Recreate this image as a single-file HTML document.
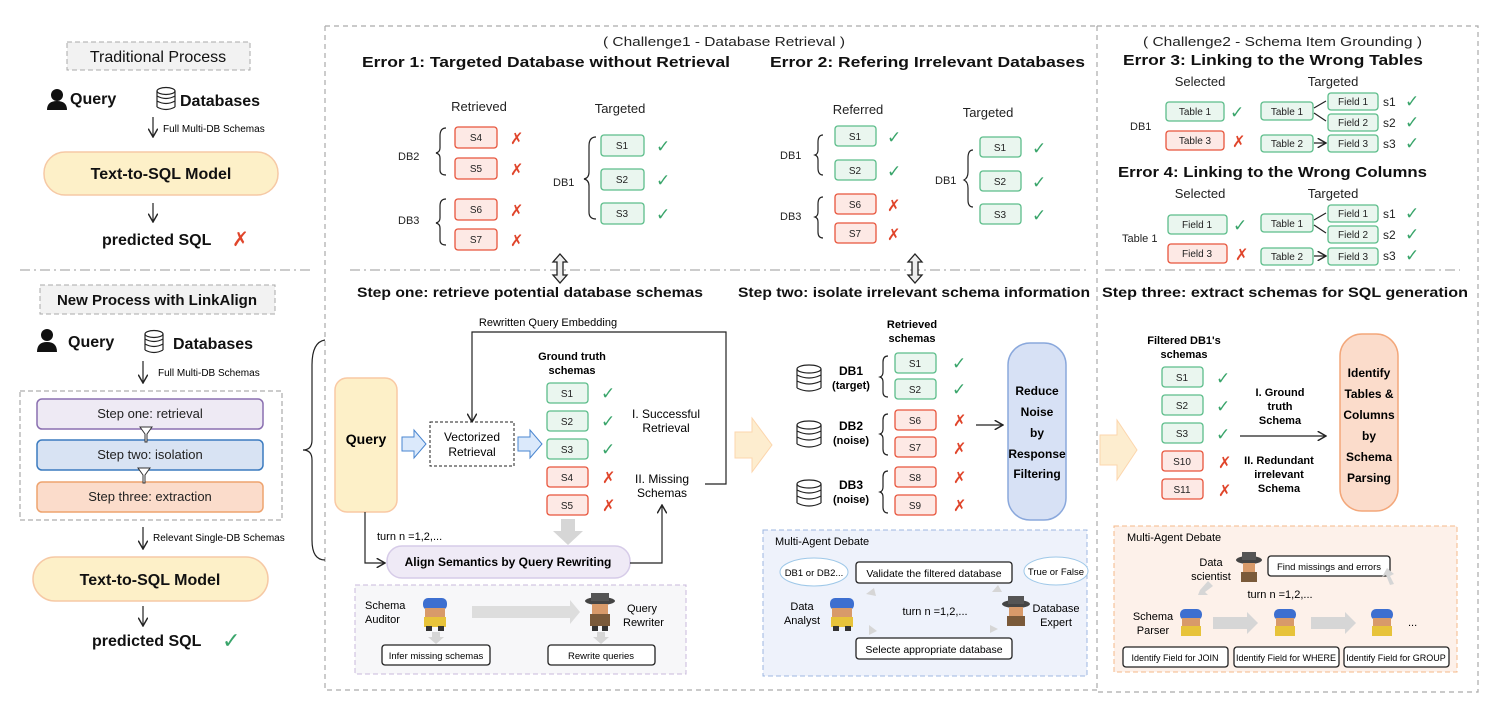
<!DOCTYPE html>
<html><head><meta charset="utf-8"><style>
html,body{margin:0;padding:0;background:#fff;}
svg{display:block;font-family:"Liberation Sans",sans-serif;}
.g{fill:#eaf6ef;stroke:#5cbd8a;stroke-width:1.3}
.r{fill:#fde9e5;stroke:#e8553c;stroke-width:1.3}
.bx{fill:#fff;stroke:#222;stroke-width:1.3}
.t{font-size:10px;fill:#222;text-anchor:middle}
.ck{font-size:17px;fill:#3aa56b;font-family:"DejaVu Sans",sans-serif;font-weight:bold}
.xx{font-size:16px;fill:#e0452b;font-family:"DejaVu Sans",sans-serif;font-weight:bold}
.h{font-size:15px;font-weight:bold;fill:#111}
.l{font-size:13px;fill:#222}
.m{font-size:12px;fill:#222}
.b{font-weight:bold}
.ln{stroke:#222;stroke-width:1.2;fill:none}
.dash{stroke:#aaa;stroke-width:1.2;fill:none;stroke-dasharray:5 4}
.dd{stroke:#bbb;stroke-width:1.5;fill:none;stroke-dasharray:10 4 2 4}
.ga{fill:#d6d6d6}
</style></head><body>
<svg width="1500" height="706" viewBox="0 0 1500 706" xmlns="http://www.w3.org/2000/svg">
<defs>
<marker id="ar" markerWidth="8" markerHeight="8" refX="7" refY="4" orient="auto"><path d="M0,0 L7,4 L0,8" fill="none" stroke="#222" stroke-width="1.2"/></marker>
</defs>

<!-- frames -->
<path class="dash" d="M325,26 H1097 M325,26 V690 H1097 M1097,26 V692 M1097,26 H1478 V692 H1097"/>
<path class="dd" d="M20,270 H312 M350,270 H1088 M1105,270 H1460"/>

<!-- LEFT TOP -->
<rect x="67" y="42" width="183" height="28" fill="#f2f2f2" stroke="#aaa" stroke-dasharray="5 3"/>
<text x="158" y="62" text-anchor="middle" style="font-size:16px;fill:#111">Traditional Process</text>
<circle cx="57" cy="95" r="6" fill="#111"/><path d="M47,110 Q47,101 57,101 Q67,101 67,110 Z" fill="#111"/>
<text x="70" y="104" class="h" style="font-size:16px">Query</text>
<g class="ln"><ellipse cx="166" cy="91" rx="9" ry="3.5"/><path d="M157,91 V107 M175,91 V107 M157,96 Q166,101 175,96 M157,101 Q166,106 175,101 M157,107 Q166,112 175,107"/></g>
<text x="180" y="106" class="h" style="font-size:16px">Databases</text>
<line x1="153" y1="117" x2="153" y2="137" class="ln" marker-end="url(#ar)"/>
<text x="163" y="132" style="font-size:10px">Full Multi-DB Schemas</text>
<rect x="44" y="152" width="234" height="43" rx="21" fill="#fdf0c8" stroke="#f6c9a5" stroke-width="1.5"/>
<text x="161" y="179" class="h" text-anchor="middle" style="font-size:16px">Text-to-SQL Model</text>
<line x1="153" y1="203" x2="153" y2="222" class="ln" marker-end="url(#ar)"/>
<text x="102" y="245" class="h" style="font-size:16px">predicted SQL</text>
<text x="232" y="246" class="xx" style="font-size:20px">✗</text>

<!-- LEFT BOTTOM -->
<rect x="40" y="285" width="235" height="29" fill="#f2f2f2" stroke="#aaa" stroke-dasharray="5 3"/>
<text x="157" y="305" class="h" text-anchor="middle">New Process with LinkAlign</text>
<circle cx="47" cy="335" r="6" fill="#111"/><path d="M37,352 Q37,342 47,342 Q57,342 57,352 Z" fill="#111"/>
<text x="68" y="347" class="h" style="font-size:16px">Query</text>
<g class="ln"><ellipse cx="154" cy="334" rx="9" ry="3.5"/><path d="M145,334 V350 M163,334 V350 M145,339 Q154,344 163,339 M145,344 Q154,349 163,344 M145,350 Q154,355 163,350"/></g>
<text x="173" y="349" class="h" style="font-size:16px">Databases</text>
<line x1="143" y1="361" x2="143" y2="383" class="ln" marker-end="url(#ar)"/>
<text x="158" y="376" style="font-size:10px">Full Multi-DB Schemas</text>
<rect x="20" y="391" width="262" height="129" fill="none" stroke="#999" stroke-dasharray="5 3"/>
<rect x="37" y="399" width="226" height="30" rx="5" fill="#eeeaf4" stroke="#8a6fb0" stroke-width="1.5"/>
<text x="150" y="418" text-anchor="middle" class="m" style="font-size:13px">Step one: retrieval</text>
<rect x="37" y="440" width="226" height="30" rx="5" fill="#d8e3f3" stroke="#3b7bbf" stroke-width="1.5"/>
<text x="150" y="459" text-anchor="middle" class="m" style="font-size:13px">Step two: isolation</text>
<rect x="37" y="482" width="226" height="30" rx="5" fill="#fbdccb" stroke="#eea36e" stroke-width="1.5"/>
<text x="150" y="501" text-anchor="middle" class="m" style="font-size:13px">Step three: extraction</text>
<path d="M140,427 H152 L147,434 V442 H145 V434 Z" fill="#fff" stroke="#333"/>
<path d="M138,468 H150 L145,475 V483 H143 V475 Z" fill="#fff" stroke="#333"/>
<line x1="143" y1="527" x2="143" y2="549" class="ln" marker-end="url(#ar)"/>
<text x="153" y="541" style="font-size:10px">Relevant Single-DB Schemas</text>
<rect x="33" y="557" width="235" height="44" rx="22" fill="#fdf0c8" stroke="#f6c9a5" stroke-width="1.5"/>
<text x="150" y="585" class="h" text-anchor="middle" style="font-size:16px">Text-to-SQL Model</text>
<line x1="143" y1="606" x2="143" y2="626" class="ln" marker-end="url(#ar)"/>
<text x="92" y="646" class="h" style="font-size:16px">predicted SQL</text>
<text x="222" y="648" class="ck" style="font-size:22px">✓</text>
<path class="ln" d="M325,340 Q312,342 312,365 V440 Q312,450 303,450 Q312,450 312,460 V540 Q312,560 325,560"/>

<!-- CHALLENGE 1 -->
<text x="603" y="46" class="l" textLength="242" lengthAdjust="spacingAndGlyphs">( Challenge1 - Database Retrieval )</text>
<text x="362" y="67" class="h" textLength="368" lengthAdjust="spacingAndGlyphs">Error 1: Targeted Database without Retrieval</text>
<text x="770" y="67" class="h" textLength="315" lengthAdjust="spacingAndGlyphs">Error 2: Refering Irrelevant Databases</text>
<text x="479" y="111" class="l" text-anchor="middle">Retrieved</text>
<text x="620" y="113" class="l" text-anchor="middle">Targeted</text>
<text x="398" y="160" class="m" style="font-size:11px">DB2</text>
<text x="398" y="224" class="m" style="font-size:11px">DB3</text>
<text x="553" y="186" class="m" style="font-size:11px">DB1</text>
<path class="ln" d="M446,128 Q440,128 440,136 V148 Q440,152 436,153 Q440,154 440,158 V170 Q440,175 446,175"/>
<path class="ln" d="M446,199 Q440,199 440,206 V218 Q440,222 436,223 Q440,224 440,228 V240 Q440,245 446,245"/>
<path class="ln" d="M596,137 Q589,137 589,146 V172 Q589,178 584,179 Q589,180 589,186 V212 Q589,219 596,219"/>
<rect class="r" x="455" y="127" width="42" height="21" rx="3"/><text class="t" x="476" y="141">S4</text>
<rect class="r" x="455" y="158" width="42" height="21" rx="3"/><text class="t" x="476" y="172">S5</text>
<rect class="r" x="455" y="199" width="42" height="21" rx="3"/><text class="t" x="476" y="213">S6</text>
<rect class="r" x="455" y="229" width="42" height="21" rx="3"/><text class="t" x="476" y="243">S7</text>
<text class="xx" x="510" y="144">✗</text><text class="xx" x="510" y="175">✗</text><text class="xx" x="510" y="216">✗</text><text class="xx" x="510" y="246">✗</text>
<rect class="g" x="601" y="135" width="43" height="21" rx="3"/><text class="t" x="622" y="149">S1</text>
<rect class="g" x="601" y="169" width="43" height="21" rx="3"/><text class="t" x="622" y="183">S2</text>
<rect class="g" x="601" y="203" width="43" height="21" rx="3"/><text class="t" x="622" y="217">S3</text>
<text class="ck" x="656" y="152">✓</text><text class="ck" x="656" y="186">✓</text><text class="ck" x="656" y="220">✓</text>

<text x="858" y="114" class="l" text-anchor="middle">Referred</text>
<text x="988" y="117" class="l" text-anchor="middle">Targeted</text>
<text x="780" y="159" class="m" style="font-size:11px">DB1</text>
<text x="780" y="220" class="m" style="font-size:11px">DB3</text>
<text x="935" y="184" class="m" style="font-size:11px">DB1</text>
<path class="ln" d="M823,135 Q818,135 818,142 V150 Q818,154 815,155 Q818,156 818,160 V168 Q818,175 823,175"/>
<path class="ln" d="M823,197 Q818,197 818,204 V212 Q818,216 815,217 Q818,218 818,222 V232 Q818,238 823,238"/>
<path class="ln" d="M973,150 Q968,150 968,158 V172 Q968,178 964,180 Q968,182 968,188 V200 Q968,207 973,207"/>
<rect class="g" x="835" y="126" width="41" height="20" rx="3"/><text class="t" x="855" y="140">S1</text>
<rect class="g" x="835" y="160" width="41" height="20" rx="3"/><text class="t" x="855" y="174">S2</text>
<rect class="r" x="835" y="194" width="41" height="20" rx="3"/><text class="t" x="855" y="208">S6</text>
<rect class="r" x="835" y="223" width="41" height="20" rx="3"/><text class="t" x="855" y="237">S7</text>
<text class="ck" x="887" y="143">✓</text><text class="ck" x="887" y="177">✓</text>
<text class="xx" x="887" y="211">✗</text><text class="xx" x="887" y="240">✗</text>
<rect class="g" x="980" y="137" width="41" height="20" rx="3"/><text class="t" x="1000" y="151">S1</text>
<rect class="g" x="980" y="171" width="41" height="20" rx="3"/><text class="t" x="1000" y="185">S2</text>
<rect class="g" x="980" y="204" width="41" height="20" rx="3"/><text class="t" x="1000" y="218">S3</text>
<text class="ck" x="1032" y="154">✓</text><text class="ck" x="1032" y="188">✓</text><text class="ck" x="1032" y="221">✓</text>

<path d="M560,254 L567,262 H563 V275 H567 L560,283 L553,275 H557 V262 H553 Z" fill="#eee" stroke="#222" stroke-width="1.3"/>
<path d="M915,254 L922,262 H918 V275 H922 L915,283 L908,275 H912 V262 H908 Z" fill="#eee" stroke="#222" stroke-width="1.3"/>

<!-- CHALLENGE 2 -->
<text x="1143" y="46" class="l" textLength="279" lengthAdjust="spacingAndGlyphs">( Challenge2 - Schema Item Grounding )</text>
<text x="1123" y="65" class="h" textLength="300" lengthAdjust="spacingAndGlyphs">Error 3: Linking to the Wrong Tables</text>
<text x="1200" y="86" class="l" text-anchor="middle">Selected</text>
<text x="1333" y="86" class="l" text-anchor="middle">Targeted</text>
<text x="1130" y="130" class="m" style="font-size:11px">DB1</text>
<rect class="g" x="1166" y="102" width="58" height="19" rx="3"/><text class="t" x="1195" y="115">Table 1</text>
<rect class="r" x="1166" y="131" width="58" height="19" rx="3"/><text class="t" x="1195" y="144">Table 3</text>
<text class="ck" x="1230" y="118">✓</text><text class="xx" x="1232" y="147">✗</text>
<rect class="g" x="1261" y="102" width="52" height="18" rx="3"/><text class="t" x="1287" y="115">Table 1</text>
<rect class="g" x="1261" y="135" width="52" height="17" rx="3"/><text class="t" x="1287" y="147">Table 2</text>
<rect class="g" x="1328" y="93" width="50" height="17" rx="3"/><text class="t" x="1353" y="105">Field 1</text>
<rect class="g" x="1328" y="114" width="50" height="17" rx="3"/><text class="t" x="1353" y="126">Field 2</text>
<rect class="g" x="1328" y="135" width="50" height="17" rx="3"/><text class="t" x="1353" y="147">Field 3</text>
<path class="ln" d="M1314,108 L1326,101 M1314,113 L1326,121 M1314,143 H1326" marker-end="url(#ar)"/>
<text x="1383" y="106" class="m">s1</text><text x="1383" y="127" class="m">s2</text><text x="1383" y="148" class="m">s3</text>
<text class="ck" x="1405" y="107">✓</text><text class="ck" x="1405" y="128">✓</text><text class="ck" x="1405" y="149">✓</text>
<text x="1118" y="177" class="h" textLength="309" lengthAdjust="spacingAndGlyphs">Error 4: Linking to the Wrong Columns</text>
<text x="1200" y="198" class="l" text-anchor="middle">Selected</text>
<text x="1333" y="198" class="l" text-anchor="middle">Targeted</text>
<text x="1122" y="242" class="m" style="font-size:11px">Table 1</text>
<rect class="g" x="1168" y="215" width="59" height="19" rx="3"/><text class="t" x="1197" y="228">Field 1</text>
<rect class="r" x="1168" y="244" width="59" height="19" rx="3"/><text class="t" x="1197" y="257">Field 3</text>
<text class="ck" x="1233" y="231">✓</text><text class="xx" x="1235" y="260">✗</text>
<rect class="g" x="1261" y="214" width="52" height="18" rx="3"/><text class="t" x="1287" y="227">Table 1</text>
<rect class="g" x="1261" y="248" width="52" height="17" rx="3"/><text class="t" x="1287" y="260">Table 2</text>
<rect class="g" x="1328" y="205" width="50" height="17" rx="3"/><text class="t" x="1353" y="217">Field 1</text>
<rect class="g" x="1328" y="226" width="50" height="17" rx="3"/><text class="t" x="1353" y="238">Field 2</text>
<rect class="g" x="1328" y="248" width="50" height="17" rx="3"/><text class="t" x="1353" y="260">Field 3</text>
<path class="ln" d="M1314,220 L1326,213 M1314,225 L1326,233 M1314,256 H1326" marker-end="url(#ar)"/>
<text x="1383" y="218" class="m">s1</text><text x="1383" y="239" class="m">s2</text><text x="1383" y="260" class="m">s3</text>
<text class="ck" x="1405" y="219">✓</text><text class="ck" x="1405" y="240">✓</text><text class="ck" x="1405" y="261">✓</text>

<!-- STEP ONE -->
<text x="357" y="297" class="h" style="font-size:14px" textLength="346" lengthAdjust="spacingAndGlyphs">Step one: retrieve potential database schemas</text>
<text x="548" y="326" text-anchor="middle" style="font-size:11px">Rewritten Query Embedding</text>
<path class="ln" d="M705,484 H726 V332 H472 V422" marker-end="url(#ar)"/>
<rect x="335" y="378" width="62" height="134" rx="12" fill="#fdf0c8" stroke="#f9c9a4" stroke-width="1.5"/>
<text x="366" y="444" text-anchor="middle" class="b" style="font-size:14px">Query</text>
<path d="M402,437 H414 V430 L426,444 L414,458 V451 H402 Z" fill="#dbe9fb" stroke="#4a86d0"/>
<path d="M518,437 H530 V430 L542,444 L530,458 V451 H518 Z" fill="#dbe9fb" stroke="#4a86d0"/>
<rect x="430" y="422" width="84" height="44" fill="#fff" stroke="#222" stroke-dasharray="3 2"/>
<text x="472" y="441" text-anchor="middle" style="font-size:12px">Vectorized</text>
<text x="472" y="456" text-anchor="middle" style="font-size:12px">Retrieval</text>
<text x="572" y="360" text-anchor="middle" class="b" style="font-size:11px">Ground truth</text>
<text x="572" y="374" text-anchor="middle" class="b" style="font-size:11px">schemas</text>
<rect class="g" x="547" y="383" width="41" height="20" rx="3"/><text class="t" x="567" y="397">S1</text>
<rect class="g" x="547" y="411" width="41" height="20" rx="3"/><text class="t" x="567" y="425">S2</text>
<rect class="g" x="547" y="439" width="41" height="20" rx="3"/><text class="t" x="567" y="453">S3</text>
<rect class="r" x="547" y="467" width="41" height="20" rx="3"/><text class="t" x="567" y="481">S4</text>
<rect class="r" x="547" y="495" width="41" height="20" rx="3"/><text class="t" x="567" y="509">S5</text>
<text class="ck" x="601" y="399">✓</text><text class="ck" x="601" y="427">✓</text><text class="ck" x="601" y="455">✓</text>
<text class="xx" x="602" y="483">✗</text><text class="xx" x="602" y="511">✗</text>
<text x="666" y="418" text-anchor="middle" style="font-size:12px">I. Successful</text>
<text x="666" y="432" text-anchor="middle" style="font-size:12px">Retrieval</text>
<text x="662" y="483" text-anchor="middle" style="font-size:12px">II. Missing</text>
<text x="662" y="497" text-anchor="middle" style="font-size:12px">Schemas</text>
<path d="M561,519 H575 V531 H583 L568,545 L553,531 H561 Z" class="ga"/>
<rect x="387" y="546" width="243" height="32" rx="15" fill="#efeaf6" stroke="#d6cbe8" stroke-width="1.5"/>
<text x="508" y="566" text-anchor="middle" class="b" style="font-size:12px">Align Semantics by Query Rewriting</text>
<path class="ln" d="M365,512 V563 H385" marker-end="url(#ar)"/>
<path class="ln" d="M630,563 H662 V505" marker-end="url(#ar)"/>
<text x="377" y="540" style="font-size:11px">turn n =1,2,...</text>
<rect x="355" y="585" width="331" height="89" fill="#f7f7f9" stroke="#c8b8dc" stroke-dasharray="5 3"/>
<text x="365" y="609" style="font-size:11px">Schema</text><text x="365" y="623" style="font-size:11px">Auditor</text>
<g><rect x="423" y="598" width="24" height="12" rx="5" fill="#3d6fd0"/><rect x="425" y="608" width="20" height="10" fill="#d89a6a"/><rect x="424" y="617" width="22" height="10" fill="#e7c33a"/><rect x="426" y="626" width="6" height="5" fill="#333"/><rect x="438" y="626" width="6" height="5" fill="#333"/></g>
<path d="M472,606 H570 V600 L580,612 L570,624 V618 H472 Z" class="ga" opacity="0.8"/>
<g><ellipse cx="600" cy="601" rx="15" ry="4" fill="#444"/><rect x="591" y="593" width="18" height="8" fill="#555"/><rect x="592" y="604" width="16" height="10" fill="#d89a6a"/><rect x="590" y="614" width="20" height="12" fill="#7a5a3a"/><rect x="592" y="626" width="6" height="5" fill="#333"/><rect x="602" y="626" width="6" height="5" fill="#333"/></g>
<text x="627" y="612" style="font-size:11px">Query</text><text x="623" y="626" style="font-size:11px">Rewriter</text>
<path d="M432,632 H440 V637 H444 L436,644 L428,637 H432 Z" class="ga"/>
<path d="M597,632 H605 V637 H609 L601,644 L593,637 H597 Z" class="ga"/>
<rect x="382" y="645" width="108" height="20" rx="3" class="bx"/><text x="436" y="659" text-anchor="middle" style="font-size:9.5px">Infer missing schemas</text>
<rect x="548" y="645" width="107" height="20" rx="3" class="bx"/><text x="601" y="659" text-anchor="middle" style="font-size:9.5px">Rewrite queries</text>

<!-- STEP TWO -->
<text x="738" y="297" class="h" style="font-size:14px" textLength="352" lengthAdjust="spacingAndGlyphs">Step two: isolate irrelevant schema information</text>
<path d="M735,432 H752 V418 L772,445 L752,472 V458 H735 Z" fill="#fdedcf" stroke="#fcd6ad"/>
<text x="912" y="328" text-anchor="middle" class="b" style="font-size:11px">Retrieved</text>
<text x="912" y="342" text-anchor="middle" class="b" style="font-size:11px">schemas</text>
<g class="ln">
<ellipse cx="809" cy="369" rx="12" ry="4"/><path d="M797,369 V388 M821,369 V388 M797,375 Q809,381 821,375 M797,381 Q809,387 821,381 M797,388 Q809,394 821,388"/>
<ellipse cx="809" cy="425" rx="12" ry="4"/><path d="M797,425 V444 M821,425 V444 M797,431 Q809,437 821,431 M797,437 Q809,443 821,437 M797,444 Q809,450 821,444"/>
<ellipse cx="809" cy="484" rx="12" ry="4"/><path d="M797,484 V503 M821,484 V503 M797,490 Q809,496 821,490 M797,496 Q809,502 821,496 M797,503 Q809,509 821,503"/>
</g>
<text x="851" y="375" text-anchor="middle" class="b" style="font-size:12px">DB1</text><text x="851" y="389" text-anchor="middle" class="b" style="font-size:11px">(target)</text>
<text x="851" y="430" text-anchor="middle" class="b" style="font-size:12px">DB2</text><text x="851" y="444" text-anchor="middle" class="b" style="font-size:11px">(noise)</text>
<text x="851" y="489" text-anchor="middle" class="b" style="font-size:12px">DB3</text><text x="851" y="503" text-anchor="middle" class="b" style="font-size:11px">(noise)</text>
<path class="ln" d="M888,356 Q883,356 883,362 V372 Q883,376 880,377 Q883,378 883,382 V392 Q883,397 888,397"/>
<path class="ln" d="M888,414 Q883,414 883,420 V429 Q883,433 880,434 Q883,435 883,439 V449 Q883,455 888,455"/>
<path class="ln" d="M888,471 Q883,471 883,477 V487 Q883,491 880,492 Q883,493 883,497 V507 Q883,513 888,513"/>
<rect class="g" x="895" y="353" width="41" height="20" rx="3"/><text class="t" x="915" y="367">S1</text>
<rect class="g" x="895" y="379" width="41" height="20" rx="3"/><text class="t" x="915" y="393">S2</text>
<rect class="r" x="895" y="410" width="41" height="20" rx="3"/><text class="t" x="915" y="424">S6</text>
<rect class="r" x="895" y="437" width="41" height="20" rx="3"/><text class="t" x="915" y="451">S7</text>
<rect class="r" x="895" y="467" width="41" height="20" rx="3"/><text class="t" x="915" y="481">S8</text>
<rect class="r" x="895" y="495" width="41" height="20" rx="3"/><text class="t" x="915" y="509">S9</text>
<text class="ck" x="952" y="369">✓</text><text class="ck" x="952" y="395">✓</text>
<text class="xx" x="953" y="426">✗</text><text class="xx" x="953" y="454">✗</text><text class="xx" x="953" y="483">✗</text><text class="xx" x="953" y="511">✗</text>
<line x1="976" y1="425" x2="1003" y2="425" class="ln" marker-end="url(#ar)"/>
<rect x="1008" y="343" width="58" height="177" rx="22" fill="#d7e1f5" stroke="#8aa8dc" stroke-width="1.5"/>
<g class="b" style="font-size:12px" text-anchor="middle">
<text x="1037" y="395">Reduce</text><text x="1037" y="416">Noise</text><text x="1037" y="437">by</text><text x="1037" y="458">Response</text><text x="1037" y="478">Filtering</text></g>
<rect x="763" y="530" width="324" height="146" fill="#eef2fb" stroke="#9db7e0" stroke-dasharray="5 3"/>
<text x="775" y="545" style="font-size:11px">Multi-Agent Debate</text>
<ellipse cx="814" cy="572" rx="34" ry="14" fill="#fff" stroke="#9ec8e8"/>
<text x="814" y="576" text-anchor="middle" style="font-size:9.5px">DB1 or DB2...</text>
<ellipse cx="1056" cy="571" rx="32" ry="14" fill="#fff" stroke="#9ec8e8"/>
<text x="1056" y="575" text-anchor="middle" style="font-size:9.5px">True or False</text>
<rect x="856" y="562" width="156" height="21" rx="3" class="bx"/><text x="934" y="577" text-anchor="middle" style="font-size:10.5px">Validate the filtered database</text>
<rect x="856" y="638" width="156" height="21" rx="3" class="bx"/><text x="934" y="653" text-anchor="middle" style="font-size:10.5px">Selecte appropriate database</text>
<text x="935" y="615" text-anchor="middle" style="font-size:11px">turn n =1,2,...</text>
<text x="802" y="610" text-anchor="middle" style="font-size:11px">Data</text><text x="802" y="624" text-anchor="middle" style="font-size:11px">Analyst</text>
<g><rect x="830" y="598" width="24" height="12" rx="5" fill="#3d6fd0"/><rect x="832" y="608" width="20" height="10" fill="#d89a6a"/><rect x="831" y="617" width="22" height="10" fill="#e7c33a"/><rect x="833" y="626" width="6" height="5" fill="#333"/><rect x="845" y="626" width="6" height="5" fill="#333"/></g>
<g><ellipse cx="1016" cy="604" rx="14" ry="4" fill="#444"/><rect x="1008" y="596" width="16" height="8" fill="#555"/><rect x="1009" y="607" width="14" height="9" fill="#d89a6a"/><rect x="1007" y="616" width="18" height="10" fill="#7a5a3a"/></g>
<text x="1056" y="612" text-anchor="middle" style="font-size:11px">Database</text><text x="1056" y="626" text-anchor="middle" style="font-size:11px">Expert</text>
<path d="M866,594 l8,-6 l2,8 z M869,625 l8,6 l-8,4 z M990,633 l0,-8 l8,4 z M992,592 l6,-7 l4,7 z" class="ga"/>

<!-- STEP THREE -->
<text x="1102" y="297" class="h" style="font-size:14px" textLength="366" lengthAdjust="spacingAndGlyphs">Step three: extract schemas for SQL generation</text>
<path d="M1100,435 H1117 V420 L1137,450 L1117,480 V465 H1100 Z" fill="#fdedcf" stroke="#fcd6ad"/>
<text x="1184" y="344" text-anchor="middle" class="b" style="font-size:11px">Filtered DB1's</text>
<text x="1184" y="358" text-anchor="middle" class="b" style="font-size:11px">schemas</text>
<rect class="g" x="1162" y="367" width="41" height="20" rx="3"/><text class="t" x="1182" y="381">S1</text>
<rect class="g" x="1162" y="395" width="41" height="20" rx="3"/><text class="t" x="1182" y="409">S2</text>
<rect class="g" x="1162" y="423" width="41" height="20" rx="3"/><text class="t" x="1182" y="437">S3</text>
<rect class="r" x="1162" y="451" width="41" height="20" rx="3"/><text class="t" x="1182" y="465">S10</text>
<rect class="r" x="1162" y="479" width="41" height="20" rx="3"/><text class="t" x="1182" y="493">S11</text>
<text class="ck" x="1216" y="384">✓</text><text class="ck" x="1216" y="412">✓</text><text class="ck" x="1216" y="440">✓</text>
<text class="xx" x="1218" y="468">✗</text><text class="xx" x="1218" y="496">✗</text>
<g class="b" style="font-size:11px" text-anchor="middle">
<text x="1280" y="396">I. Ground</text><text x="1280" y="410">truth</text><text x="1280" y="424">Schema</text>
<text x="1279" y="464">II. Redundant</text><text x="1279" y="478">irrelevant</text><text x="1279" y="492">Schema</text></g>
<line x1="1240" y1="436" x2="1326" y2="436" class="ln" marker-end="url(#ar)"/>
<rect x="1340" y="334" width="58" height="177" rx="22" fill="#fbdccb" stroke="#f3a77a" stroke-width="1.5"/>
<g class="b" style="font-size:12px" text-anchor="middle">
<text x="1369" y="377">Identify</text><text x="1369" y="398">Tables &amp;</text><text x="1369" y="419">Columns</text><text x="1369" y="440">by</text><text x="1369" y="461">Schema</text><text x="1369" y="482">Parsing</text></g>
<rect x="1114" y="526" width="343" height="146" fill="#fdf1ea" stroke="#f5b98a" stroke-dasharray="5 3"/>
<text x="1127" y="541" style="font-size:11px">Multi-Agent Debate</text>
<text x="1211" y="566" text-anchor="middle" style="font-size:11px">Data</text><text x="1211" y="580" text-anchor="middle" style="font-size:11px">scientist</text>
<g><ellipse cx="1249" cy="560" rx="13" ry="4" fill="#444"/><rect x="1242" y="552" width="14" height="8" fill="#555"/><rect x="1243" y="563" width="12" height="9" fill="#d89a6a"/><rect x="1241" y="572" width="16" height="10" fill="#7a5a3a"/></g>
<rect x="1268" y="556" width="122" height="20" rx="3" class="bx"/><text x="1329" y="570" text-anchor="middle" style="font-size:9.5px">Find missings and errors</text>
<text x="1280" y="598" text-anchor="middle" style="font-size:11px">turn n =1,2,...</text>
<text x="1153" y="620" text-anchor="middle" style="font-size:11px">Schema</text><text x="1153" y="634" text-anchor="middle" style="font-size:11px">Parser</text>
<g><rect x="1180" y="609" width="22" height="11" rx="5" fill="#3d6fd0"/><rect x="1182" y="618" width="18" height="9" fill="#d89a6a"/><rect x="1181" y="626" width="20" height="10" fill="#e7c33a"/></g>
<g><rect x="1274" y="609" width="22" height="11" rx="5" fill="#3d6fd0"/><rect x="1276" y="618" width="18" height="9" fill="#d89a6a"/><rect x="1275" y="626" width="20" height="10" fill="#e7c33a"/></g>
<g><rect x="1371" y="609" width="22" height="11" rx="5" fill="#3d6fd0"/><rect x="1373" y="618" width="18" height="9" fill="#d89a6a"/><rect x="1372" y="626" width="20" height="10" fill="#e7c33a"/></g>
<path d="M1213,617 H1247 V612 L1258,623 L1247,634 V629 H1213 Z M1311,617 H1345 V612 L1356,623 L1345,634 V629 H1311 Z" class="ga"/>
<path d="M1200,590 l8,-9 l5,5 l-8,6 l3,3 h-10 z M1390,585 l-4,-10 l-4,2 l5,-9 l7,6 l-4,2 l4,8 z" class="ga"/>
<text x="1408" y="626" style="font-size:11px">...</text>
<rect x="1123" y="647" width="105" height="20" rx="3" class="bx"/><text x="1175" y="661" text-anchor="middle" style="font-size:9px">Identify Field for JOIN</text>
<rect x="1234" y="647" width="105" height="20" rx="3" class="bx"/><text x="1286" y="661" text-anchor="middle" style="font-size:9px">Identify Field for WHERE</text>
<rect x="1344" y="647" width="105" height="20" rx="3" class="bx"/><text x="1396" y="661" text-anchor="middle" style="font-size:9px">Identify Field for GROUP</text>
</svg>
</body></html>
